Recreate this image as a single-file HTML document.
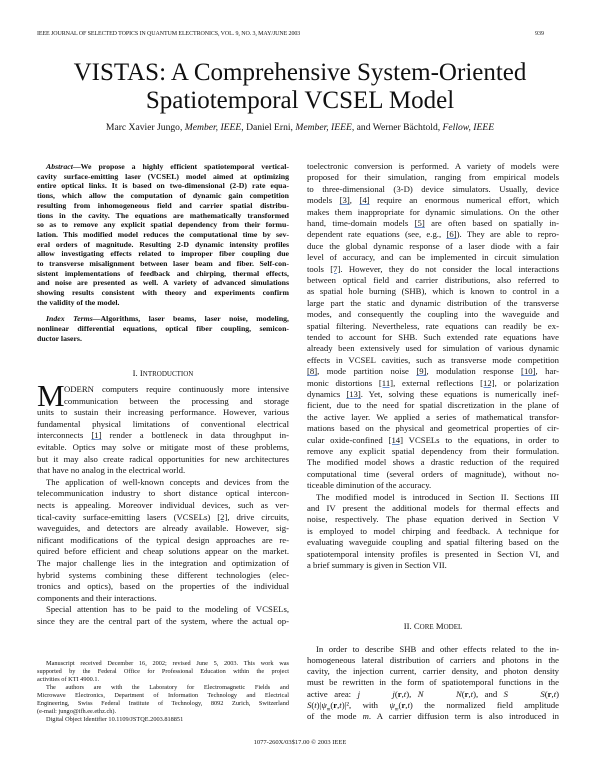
<!DOCTYPE html>
<html><head><meta charset="utf-8"><style>
*{margin:0;padding:0}
body{width:600px;height:776px;background:#fff;position:relative;overflow:hidden;font-family:"Liberation Serif",serif;color:#111}
.a{position:absolute;white-space:nowrap}
.l{position:absolute;width:252px;height:11px;line-height:11px;overflow:hidden;text-align:justify;text-align-last:justify;font-size:8.7px}
.L{left:37px}.R{left:307px}
.e{text-align-last:left}
.i{text-indent:9px}
.ab{font-weight:bold;font-size:7.8px;height:10px;line-height:10px}
.fn{font-size:6.3px;height:8px;line-height:8px}
.c{color:#111;text-decoration:underline;text-decoration-color:#6a8fd0}
.h{position:absolute;width:252px;text-align:center;font-size:8.7px;line-height:11px}
.sc{font-size:7px}
</style></head><body>
<div class="a" style="left:37px;top:31px;font-size:6px;letter-spacing:-0.1px">IEEE JOURNAL OF SELECTED TOPICS IN QUANTUM ELECTRONICS, VOL. 9, NO. 3, MAY/JUNE 2003</div>
<div class="a" style="left:535px;top:31px;font-size:6px">939</div>
<div class="a" style="left:0;width:600px;text-align:center;top:59px;font-size:25px;line-height:28px">VISTAS: A Comprehensive System-Oriented<br>Spatiotemporal VCSEL Model</div>
<div class="a" style="left:0;width:600px;text-align:center;top:122px;font-size:9.6px">Marc Xavier Jungo, <i>Member, IEEE</i>, Daniel Erni, <i>Member, IEEE</i>, and Werner Bächtold, <i>Fellow, IEEE</i></div>

<div class="l L ab i" style="top:162px"><i>Abstract</i>—We propose a highly efficient spatiotemporal vertical-</div>
<div class="l L ab" style="top:171.7px">cavity surface-emitting laser (VCSEL) model aimed at optimizing</div>
<div class="l L ab" style="top:181.4px">entire optical links. It is based on two-dimensional (2-D) rate equa-</div>
<div class="l L ab" style="top:191.1px">tions, which allow the computation of dynamic gain competition</div>
<div class="l L ab" style="top:200.8px">resulting from inhomogeneous field and carrier spatial distribu-</div>
<div class="l L ab" style="top:210.5px">tions in the cavity. The equations are mathematically transformed</div>
<div class="l L ab" style="top:220.2px">so as to remove any explicit spatial dependency from their formu-</div>
<div class="l L ab" style="top:229.9px">lation. This modified model reduces the computational time by sev-</div>
<div class="l L ab" style="top:239.6px">eral orders of magnitude. Resulting 2-D dynamic intensity profiles</div>
<div class="l L ab" style="top:249.3px">allow investigating effects related to improper fiber coupling due</div>
<div class="l L ab" style="top:259px">to transverse misalignment between laser beam and fiber. Self-con-</div>
<div class="l L ab" style="top:268.7px">sistent implementations of feedback and chirping, thermal effects,</div>
<div class="l L ab" style="top:278.4px">and noise are presented as well. A variety of advanced simulations</div>
<div class="l L ab" style="top:288.1px">showing results consistent with theory and experiments confirm</div>
<div class="l L ab e" style="top:297.8px">the validity of the model.</div>
<div class="l L ab i" style="top:314px"><i>Index Terms</i>—Algorithms, laser beams, laser noise, modeling,</div>
<div class="l L ab" style="top:324px">nonlinear differential equations, optical fiber coupling, semicon-</div>
<div class="l L ab e" style="top:334px">ductor lasers.</div>

<div class="h" style="left:37px;top:368px">I. I<span class="sc">NTRODUCTION</span></div>
<div class="a" style="left:37px;top:380px;font-size:31px;line-height:31px">M</div>
<div class="l" style="left:64px;width:225px;top:384px">ODERN computers require continuously more intensive</div>
<div class="l" style="left:64px;width:225px;top:395.6px">communication between the processing and storage</div>
<div class="l L" style="top:407.2px">units to sustain their increasing performance. However, various</div>
<div class="l L" style="top:418.8px">fundamental physical limitations of conventional electrical</div>
<div class="l L" style="top:430.4px">interconnects <span class="c">[1]</span> render a bottleneck in data throughput in-</div>
<div class="l L" style="top:442px">evitable. Optics may solve or mitigate most of these problems,</div>
<div class="l L" style="top:453.6px">but it may also create radical opportunities for new architectures</div>
<div class="l L e" style="top:465.2px">that have no analog in the electrical world.</div>
<div class="l L i" style="top:476.8px">The application of well-known concepts and devices from the</div>
<div class="l L" style="top:488.4px">telecommunication industry to short distance optical intercon-</div>
<div class="l L" style="top:500px">nects is appealing. Moreover individual devices, such as ver-</div>
<div class="l L" style="top:511.6px">tical-cavity surface-emitting lasers (VCSELs) <span class="c">[2]</span>, drive circuits,</div>
<div class="l L" style="top:523.2px">waveguides, and detectors are already available. However, sig-</div>
<div class="l L" style="top:534.8px">nificant modifications of the typical design approaches are re-</div>
<div class="l L" style="top:546.4px">quired before efficient and cheap solutions appear on the market.</div>
<div class="l L" style="top:558px">The major challenge lies in the integration and optimization of</div>
<div class="l L" style="top:569.6px">hybrid systems combining these different technologies (elec-</div>
<div class="l L" style="top:581.2px">tronics and optics), based on the properties of the individual</div>
<div class="l L e" style="top:592.8px">components and their interactions.</div>
<div class="l L i" style="top:604.4px">Special attention has to be paid to the modeling of VCSELs,</div>
<div class="l L" style="top:616px">since they are the central part of the system, where the actual op-</div>

<div class="l L fn i" style="top:660px">Manuscript received December 16, 2002; revised June 5, 2003. This work was</div>
<div class="l L fn" style="top:668px">supported by the Federal Office for Professional Education within the project</div>
<div class="l L fn e" style="top:676px">activities of KTI 4900.1.</div>
<div class="l L fn i" style="top:684px">The authors are with the Laboratory for Electromagnetic Fields and</div>
<div class="l L fn" style="top:692px">Microwave Electronics, Department of Information Technology and Electrical</div>
<div class="l L fn" style="top:700px">Engineering, Swiss Federal Institute of Technology, 8092 Zurich, Switzerland</div>
<div class="l L fn e" style="top:708px">(e-mail: jungo@ifh.ee.ethz.ch).</div>
<div class="l L fn e i" style="top:716px">Digital Object Identifier 10.1109/JSTQE.2003.818851</div>

<div class="l R" style="top:161px">toelectronic conversion is performed. A variety of models were</div>
<div class="l R" style="top:172.4px">proposed for their simulation, ranging from empirical models</div>
<div class="l R" style="top:183.8px">to three-dimensional (3-D) device simulators. Usually, device</div>
<div class="l R" style="top:195.2px">models <span class="c">[3]</span>, <span class="c">[4]</span> require an enormous numerical effort, which</div>
<div class="l R" style="top:206.6px">makes them inappropriate for dynamic simulations. On the other</div>
<div class="l R" style="top:218px">hand, time-domain models <span class="c">[5]</span> are often based on spatially in-</div>
<div class="l R" style="top:229.4px">dependent rate equations (see, e.g., <span class="c">[6]</span>). They are able to repro-</div>
<div class="l R" style="top:240.8px">duce the global dynamic response of a laser diode with a fair</div>
<div class="l R" style="top:252.2px">level of accuracy, and can be implemented in circuit simulation</div>
<div class="l R" style="top:263.6px">tools <span class="c">[7]</span>. However, they do not consider the local interactions</div>
<div class="l R" style="top:275px">between optical field and carrier distributions, also referred to</div>
<div class="l R" style="top:286.4px">as spatial hole burning (SHB), which is known to control in a</div>
<div class="l R" style="top:297.8px">large part the static and dynamic distribution of the transverse</div>
<div class="l R" style="top:309.2px">modes, and consequently the coupling into the waveguide and</div>
<div class="l R" style="top:320.6px">spatial filtering. Nevertheless, rate equations can readily be ex-</div>
<div class="l R" style="top:332px">tended to account for SHB. Such extended rate equations have</div>
<div class="l R" style="top:343.4px">already been extensively used for simulation of various dynamic</div>
<div class="l R" style="top:354.8px">effects in VCSEL cavities, such as transverse mode competition</div>
<div class="l R" style="top:366.2px"><span class="c">[8]</span>, mode partition noise <span class="c">[9]</span>, modulation response <span class="c">[10]</span>, har-</div>
<div class="l R" style="top:377.6px">monic distortions <span class="c">[11]</span>, external reflections <span class="c">[12]</span>, or polarization</div>
<div class="l R" style="top:389px">dynamics <span class="c">[13]</span>. Yet, solving these equations is numerically inef-</div>
<div class="l R" style="top:400.4px">ficient, due to the need for spatial discretization in the plane of</div>
<div class="l R" style="top:411.8px">the active layer. We applied a series of mathematical transfor-</div>
<div class="l R" style="top:423.2px">mations based on the physical and geometrical properties of cir-</div>
<div class="l R" style="top:434.6px">cular oxide-confined <span class="c">[14]</span> VCSELs to the equations, in order to</div>
<div class="l R" style="top:446px">remove any explicit spatial dependency from their formulation.</div>
<div class="l R" style="top:457.4px">The modified model shows a drastic reduction of the required</div>
<div class="l R" style="top:468.8px">computational time (several orders of magnitude), without no-</div>
<div class="l R e" style="top:480.2px">ticeable diminution of the accuracy.</div>
<div class="l R i" style="top:491.6px">The modified model is introduced in Section II. Sections III</div>
<div class="l R" style="top:503px">and IV present the additional models for thermal effects and</div>
<div class="l R" style="top:514.4px">noise, respectively. The phase equation derived in Section V</div>
<div class="l R" style="top:525.8px">is employed to model chirping and feedback. A technique for</div>
<div class="l R" style="top:537.2px">evaluating waveguide coupling and spatial filtering based on the</div>
<div class="l R" style="top:548.6px">spatiotemporal intensity profiles is presented in Section VI, and</div>
<div class="l R e" style="top:560px">a brief summary is given in Section VII.</div>

<div class="h" style="left:307px;top:621px">II. C<span class="sc">ORE</span> M<span class="sc">ODEL</span></div>
<div class="l R i" style="top:644px">In order to describe SHB and other effects related to the in-</div>
<div class="l R" style="top:655px">homogeneous lateral distribution of carriers and photons in the</div>
<div class="l R" style="top:666px">cavity, the injection current, carrier density, and photon density</div>
<div class="l R" style="top:677px">must be rewritten in the form of spatiotemporal functions in the</div>
<div class="l R" style="top:689px">active area: <i>j</i> &nbsp;&nbsp;&nbsp; <i>j</i>(<b>r</b>,<i>t</i>), <i>N</i> &nbsp;&nbsp;&nbsp; <i>N</i>(<b>r</b>,<i>t</i>), and <i>S</i> &nbsp;&nbsp;&nbsp; <i>S</i>(<b>r</b>,<i>t</i>)</div>
<div class="l R" style="top:700px"><i>S</i>(<i>t</i>)|<i>ψ<sub style="font-size:5px">m</sub></i>(<b>r</b>,<i>t</i>)|², with <i>ψ<sub style="font-size:5px">m</sub></i>(<b>r</b>,<i>t</i>) the normalized field amplitude</div>
<div class="l R" style="top:711px">of the mode <i>m</i>. A carrier diffusion term is also introduced in</div>

<div class="a" style="left:0;width:600px;text-align:center;top:739px;font-size:6.5px">1077-260X/03$17.00 © 2003 IEEE</div>
</body></html>
